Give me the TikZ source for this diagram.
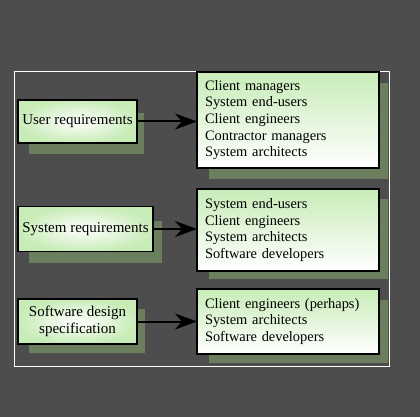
\documentclass[tikz,border=0pt]{standalone}
\usepackage{fontspec}
\setmainfont{Liberation Serif}
\usetikzlibrary{arrows.meta}
\definecolor{bgc}{RGB}{77,77,77}
\definecolor{shc}{RGB}{107,127,94}
\definecolor{grn}{RGB}{200,236,184}
\tikzset{
  docbox/.style={draw=black, line width=1.8pt, inner ysep=0pt, outer sep=0pt},
  lbox/.style={docbox, inner xsep=1pt, shading=radial, inner color=white, outer color=grn, align=center, font=\fontsize{15}{17}\selectfont},
  rbox/.style={docbox, inner xsep=8pt, top color=grn, bottom color=white, align=left, font=\fontsize{14.4}{16.6}\selectfont},
  shadowbox/.style={fill=shc},
  arr/.style={-{Stealth[length=22pt,width=16pt,inset=7pt]}, line width=2pt}
}
\begin{document}
\begin{tikzpicture}[x=1pt,y=-1pt]
\fill[bgc] (0,0) rectangle (420,417);
\useasboundingbox (0,0) rectangle (420,417);
\draw[white, line width=1pt] (14,72) rectangle (389,366);
% shadows
\fill[shadowbox] (29,113) rectangle (144,154);
\fill[shadowbox] (29,221) rectangle (162,263);
\fill[shadowbox] (29,309) rectangle (145,353);
\fill[shadowbox] (209,83) rectangle (388,179);
\fill[shadowbox] (209,199) rectangle (388,279);
\fill[shadowbox] (209,300) rectangle (388,363);
% left boxes
\node[lbox, minimum width=119pt, minimum height=43pt] (u) at (77.5,121.5) {User requirements};
\node[lbox, minimum width=135pt, minimum height=45pt] (s) at (85.5,229) {System requirements};
\node[lbox, minimum width=119pt, minimum height=45pt] (d) at (77.5,321.5) {Software design\\specification};
% right boxes
\node[rbox, minimum width=182pt, minimum height=96pt, text width=166pt] (ra) at (288,120) {Client managers\\System end-users\\Client engineers\\Contractor managers\\System architects};
\node[rbox, minimum width=182pt, minimum height=82pt, text width=166pt] (rb) at (288,230) {System end-users\\Client engineers\\System architects\\Software developers};
\node[rbox, minimum width=182pt, minimum height=65pt, text width=166pt] (rc) at (288,321.5) {Client engineers (perhaps)\\System architects\\Software developers};
% arrows
\draw[arr] (u.east) -- (u.east -| ra.west);
\draw[arr] (s.east) -- (s.east -| rb.west);
\draw[arr] (d.east) -- (d.east -| rc.west);
\end{tikzpicture}
\end{document}
